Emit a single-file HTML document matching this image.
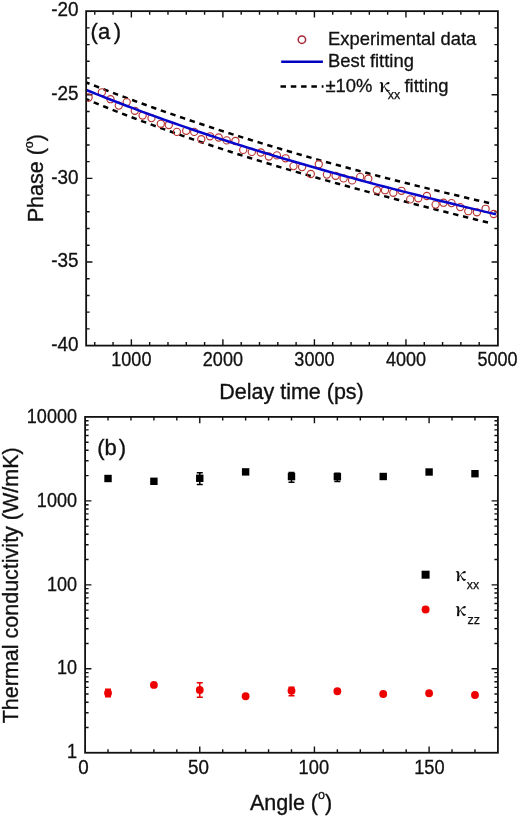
<!DOCTYPE html>
<html><head><meta charset="utf-8"><title>Plot</title>
<style>html,body{margin:0;padding:0;background:#fff;width:520px;height:817px;overflow:hidden}svg{display:block}</style>
</head><body>
<svg width="520" height="817" viewBox="0 0 520 817" font-family="'Liberation Sans', Arial, sans-serif"><path d="M94.75,345.60v-3.5M94.75,11.15v3.5M113.06,345.60v-3.5M113.06,11.15v3.5M131.37,345.60v-6.3M131.37,11.15v6.3M149.67,345.60v-3.5M149.67,11.15v3.5M167.98,345.60v-3.5M167.98,11.15v3.5M186.28,345.60v-3.5M186.28,11.15v3.5M204.59,345.60v-3.5M204.59,11.15v3.5M222.89,345.60v-6.3M222.89,11.15v6.3M241.20,345.60v-3.5M241.20,11.15v3.5M259.51,345.60v-3.5M259.51,11.15v3.5M277.81,345.60v-3.5M277.81,11.15v3.5M296.12,345.60v-3.5M296.12,11.15v3.5M314.42,345.60v-6.3M314.42,11.15v6.3M332.73,345.60v-3.5M332.73,11.15v3.5M351.04,345.60v-3.5M351.04,11.15v3.5M369.34,345.60v-3.5M369.34,11.15v3.5M387.65,345.60v-3.5M387.65,11.15v3.5M405.96,345.60v-6.3M405.96,11.15v6.3M424.26,345.60v-3.5M424.26,11.15v3.5M442.57,345.60v-3.5M442.57,11.15v3.5M460.87,345.60v-3.5M460.87,11.15v3.5M479.18,345.60v-3.5M479.18,11.15v3.5M86.15,27.87h3.5M497.90,27.87h-3.5M86.15,44.60h3.5M497.90,44.60h-3.5M86.15,61.32h3.5M497.90,61.32h-3.5M86.15,78.04h3.5M497.90,78.04h-3.5M86.15,94.76h6.3M497.90,94.76h-6.3M86.15,111.49h3.5M497.90,111.49h-3.5M86.15,128.21h3.5M497.90,128.21h-3.5M86.15,144.93h3.5M497.90,144.93h-3.5M86.15,161.65h3.5M497.90,161.65h-3.5M86.15,178.38h6.3M497.90,178.38h-6.3M86.15,195.10h3.5M497.90,195.10h-3.5M86.15,211.82h3.5M497.90,211.82h-3.5M86.15,228.54h3.5M497.90,228.54h-3.5M86.15,245.27h3.5M497.90,245.27h-3.5M86.15,261.99h6.3M497.90,261.99h-6.3M86.15,278.71h3.5M497.90,278.71h-3.5M86.15,295.43h3.5M497.90,295.43h-3.5M86.15,312.15h3.5M497.90,312.15h-3.5M86.15,328.88h3.5M497.90,328.88h-3.5" stroke="#111" stroke-width="1.4" fill="none"/>
<clipPath id="ca"><rect x="86.15" y="11.15" width="411.75" height="334.45000000000005"/></clipPath>
<g clip-path="url(#ca)"><path d="M86.15,82.44 L91.27,84.46 L96.40,86.46 L101.52,88.45 L106.65,90.42 L111.77,92.38 L116.90,94.32 L122.02,96.24 L127.15,98.15 L132.27,100.04 L137.40,101.92 L142.52,103.79 L147.65,105.64 L152.77,107.47 L157.90,109.29 L163.02,111.10 L168.14,112.89 L173.27,114.67 L178.39,116.43 L183.52,118.19 L188.64,119.92 L193.77,121.65 L198.89,123.36 L204.02,125.06 L209.14,126.74 L214.27,128.41 L219.39,130.07 L224.52,131.72 L229.64,133.35 L234.77,134.97 L239.89,136.58 L245.02,138.18 L250.14,139.77 L255.26,141.34 L260.39,142.90 L265.51,144.45 L270.64,145.99 L275.76,147.52 L280.89,149.04 L286.01,150.55 L291.14,152.04 L296.26,153.53 L301.39,155.00 L306.51,156.47 L311.64,157.92 L316.76,159.37 L321.89,160.80 L327.01,162.22 L332.13,163.64 L337.26,165.04 L342.38,166.44 L347.51,167.83 L352.63,169.20 L357.76,170.57 L362.88,171.93 L368.01,173.28 L373.13,174.63 L378.26,175.96 L383.38,177.29 L388.51,178.61 L393.63,179.92 L398.76,181.22 L403.88,182.51 L409.01,183.80 L414.13,185.08 L419.25,186.35 L424.38,187.62 L429.50,188.88 L434.63,190.13 L439.75,191.37 L444.88,192.61 L450.00,193.84 L455.13,195.07 L460.25,196.29 L465.38,197.50 L470.50,198.71 L475.63,199.91 L480.75,201.11 L485.88,202.30 L491.00,203.48" stroke="#000" stroke-width="2.5" stroke-dasharray="5.4 4.78" stroke-dashoffset="1.75" fill="none"/><path d="M86.15,99.20 L91.27,101.31 L96.40,103.40 L101.52,105.47 L106.65,107.52 L111.77,109.55 L116.90,111.56 L122.02,113.55 L127.15,115.52 L132.27,117.48 L137.40,119.42 L142.52,121.34 L147.65,123.24 L152.77,125.13 L157.90,126.99 L163.02,128.84 L168.14,130.68 L173.27,132.50 L178.39,134.30 L183.52,136.09 L188.64,137.86 L193.77,139.61 L198.89,141.36 L204.02,143.08 L209.14,144.79 L214.27,146.49 L219.39,148.17 L224.52,149.84 L229.64,151.50 L234.77,153.14 L239.89,154.77 L245.02,156.38 L250.14,157.98 L255.26,159.57 L260.39,161.15 L265.51,162.72 L270.64,164.27 L275.76,165.81 L280.89,167.35 L286.01,168.87 L291.14,170.37 L296.26,171.87 L301.39,173.36 L306.51,174.84 L311.64,176.31 L316.76,177.77 L321.89,179.22 L327.01,180.65 L332.13,182.09 L337.26,183.51 L342.38,184.92 L347.51,186.33 L352.63,187.72 L357.76,189.11 L362.88,190.50 L368.01,191.87 L373.13,193.24 L378.26,194.60 L383.38,195.96 L388.51,197.30 L393.63,198.65 L398.76,199.98 L403.88,201.31 L409.01,202.64 L414.13,203.96 L419.25,205.27 L424.38,206.58 L429.50,207.89 L434.63,209.19 L439.75,210.49 L444.88,211.78 L450.00,213.07 L455.13,214.36 L460.25,215.64 L465.38,216.92 L470.50,218.20 L475.63,219.48 L480.75,220.75 L485.88,222.03 L491.00,223.30" stroke="#000" stroke-width="2.5" stroke-dasharray="5.4 4.78" stroke-dashoffset="2.02" fill="none"/><g fill="none" stroke="#b83530" stroke-width="1.15"><circle cx="88.6" cy="97.5" r="3.6"/><circle cx="101.9" cy="92.3" r="3.6"/><circle cx="110.5" cy="99.2" r="3.6"/><circle cx="118.8" cy="105.6" r="3.6"/><circle cx="126.7" cy="102.1" r="3.6"/><circle cx="134.8" cy="110.8" r="3.6"/><circle cx="142.6" cy="115.5" r="3.6"/><circle cx="151.5" cy="118.1" r="3.6"/><circle cx="160.8" cy="123.8" r="3.6"/><circle cx="168.8" cy="125" r="3.6"/><circle cx="176.9" cy="131.9" r="3.6"/><circle cx="186.2" cy="130.8" r="3.6"/><circle cx="194.2" cy="131.9" r="3.6"/><circle cx="201.3" cy="139.2" r="3.6"/><circle cx="210" cy="136.3" r="3.6"/><circle cx="218.7" cy="137.5" r="3.6"/><circle cx="226.7" cy="140.4" r="3.6"/><circle cx="235.4" cy="141" r="3.6"/><circle cx="243.2" cy="149.9" r="3.6"/><circle cx="251.8" cy="151.9" r="3.6"/><circle cx="260.8" cy="152.5" r="3.6"/><circle cx="268.8" cy="156.5" r="3.6"/><circle cx="276.9" cy="155.4" r="3.6"/><circle cx="285.6" cy="158.3" r="3.6"/><circle cx="293.5" cy="166.1" r="3.6"/><circle cx="302.1" cy="167.1" r="3.6"/><circle cx="310.8" cy="174" r="3.6"/><circle cx="318.8" cy="164.2" r="3.6"/><circle cx="326.9" cy="174.6" r="3.6"/><circle cx="335.6" cy="175.8" r="3.6"/><circle cx="343.6" cy="178.4" r="3.6"/><circle cx="352.1" cy="180.4" r="3.6"/><circle cx="360.2" cy="176.9" r="3.6"/><circle cx="368.3" cy="178.7" r="3.6"/><circle cx="376.9" cy="190.2" r="3.6"/><circle cx="385" cy="190.2" r="3.6"/><circle cx="393.3" cy="192.8" r="3.6"/><circle cx="401.5" cy="190.8" r="3.6"/><circle cx="410.2" cy="199.4" r="3.6"/><circle cx="418.3" cy="198.3" r="3.6"/><circle cx="426.9" cy="196" r="3.6"/><circle cx="435.6" cy="204.6" r="3.6"/><circle cx="443.5" cy="202.7" r="3.6"/><circle cx="451.5" cy="203.1" r="3.6"/><circle cx="460.2" cy="207.1" r="3.6"/><circle cx="468.3" cy="211.2" r="3.6"/><circle cx="476.9" cy="212.3" r="3.6"/><circle cx="485.6" cy="208.8" r="3.6"/><circle cx="493.7" cy="214" r="3.6"/></g><path d="M86.15,89.92 L91.34,92.02 L96.53,94.11 L101.71,96.17 L106.90,98.22 L112.09,100.25 L117.28,102.27 L122.47,104.26 L127.65,106.24 L132.84,108.20 L138.03,110.15 L143.22,112.07 L148.41,113.98 L153.59,115.88 L158.78,117.76 L163.97,119.62 L169.16,121.47 L174.35,123.30 L179.53,125.11 L184.72,126.91 L189.91,128.70 L195.10,130.47 L200.29,132.23 L205.47,133.97 L210.66,135.70 L215.85,137.41 L221.04,139.11 L226.23,140.79 L231.41,142.47 L236.60,144.13 L241.79,145.77 L246.98,147.41 L252.17,149.03 L257.35,150.63 L262.54,152.23 L267.73,153.81 L272.92,155.38 L278.11,156.94 L283.29,158.49 L288.48,160.03 L293.67,161.55 L298.86,163.07 L304.04,164.57 L309.23,166.06 L314.42,167.55 L319.61,169.02 L324.80,170.48 L329.98,171.93 L335.17,173.38 L340.36,174.81 L345.55,176.23 L350.74,177.65 L355.92,179.05 L361.11,180.45 L366.30,181.84 L371.49,183.22 L376.68,184.59 L381.86,185.96 L387.05,187.31 L392.24,188.66 L397.43,190.00 L402.62,191.34 L407.80,192.66 L412.99,193.98 L418.18,195.30 L423.37,196.61 L428.56,197.91 L433.74,199.20 L438.93,200.49 L444.12,201.77 L449.31,203.05 L454.50,204.33 L459.68,205.59 L464.87,206.86 L470.06,208.11 L475.25,209.37 L480.44,210.62 L485.62,211.86 L490.81,213.10 L496.00,214.34" stroke="#0808cc" stroke-width="2.5" fill="none"/></g>
<rect x="86.15" y="11.15" width="411.75" height="334.45" fill="none" stroke="#111" stroke-width="1.8"/>
<g font-size="19.4" fill="#111" stroke="#111" stroke-width="0.3"><text x="78.6" y="16.45" text-anchor="end" textLength="27.33" lengthAdjust="spacingAndGlyphs">-20</text><text x="78.6" y="100.06" text-anchor="end" textLength="27.33" lengthAdjust="spacingAndGlyphs">-25</text><text x="78.6" y="183.68" text-anchor="end" textLength="27.33" lengthAdjust="spacingAndGlyphs">-30</text><text x="78.6" y="267.29" text-anchor="end" textLength="27.33" lengthAdjust="spacingAndGlyphs">-35</text><text x="78.6" y="350.90" text-anchor="end" textLength="27.33" lengthAdjust="spacingAndGlyphs">-40</text><text x="131.37" y="366.2" text-anchor="middle" textLength="40.13" lengthAdjust="spacingAndGlyphs">1000</text><text x="222.89" y="366.2" text-anchor="middle" textLength="40.13" lengthAdjust="spacingAndGlyphs">2000</text><text x="314.42" y="366.2" text-anchor="middle" textLength="40.13" lengthAdjust="spacingAndGlyphs">3000</text><text x="405.96" y="366.2" text-anchor="middle" textLength="40.13" lengthAdjust="spacingAndGlyphs">4000</text><text x="497.49" y="366.2" text-anchor="middle" textLength="40.13" lengthAdjust="spacingAndGlyphs">5000</text></g>
<text x="291.5" y="399.2" font-size="21.5" text-anchor="middle" fill="#111" stroke="#111" stroke-width="0.35">Delay time (ps)</text>
<text transform="translate(43.3,178.2) rotate(-90)" font-size="21.5" text-anchor="middle" fill="#111" stroke="#111" stroke-width="0.35">Phase (<tspan font-size="12.5" dy="-10.2">o</tspan><tspan dy="10.2">)</tspan></text>
<text x="90.6" y="39.4" font-size="22" fill="#111" stroke="#111" stroke-width="0.35">(a<tspan dx="3.5">)</tspan></text>
<circle cx="301.9" cy="39.7" r="3.7" fill="none" stroke="#a82838" stroke-width="1.5"/>
<text x="328" y="45" font-size="18.4" fill="#111" stroke="#111" stroke-width="0.3">Experimental data</text>
<path d="M281.2,61.7H322.9" stroke="#0000c0" stroke-width="2.4"/>
<text x="328" y="67.2" font-size="18.4" fill="#111" stroke="#111" stroke-width="0.3">Best fitting</text>
<path d="M280.5,86.5H323.5" stroke="#000" stroke-width="2.3" stroke-dasharray="5.5 4.8"/>
<text x="325.5" y="91.8" font-size="18.4" fill="#111" stroke="#111" stroke-width="0.3">±10%</text>
<text transform="translate(379,91.5) scale(1.06,1)" font-size="17.2" font-weight="700" font-family="'Noto Serif CJK SC', 'Liberation Serif', serif" fill="#111">κ</text>
<text x="387.8" y="98.9" font-size="12.5" fill="#111" stroke="#111" stroke-width="0.25">xx</text>
<text x="404.5" y="91.8" font-size="18.4" fill="#111" stroke="#111" stroke-width="0.3">fitting</text>
<path d="M108.03,752.75v-3.5M108.03,416.90v3.5M130.97,752.75v-3.5M130.97,416.90v3.5M153.90,752.75v-3.5M153.90,416.90v3.5M176.83,752.75v-3.5M176.83,416.90v3.5M199.77,752.75v-6.3M199.77,416.90v6.3M222.70,752.75v-3.5M222.70,416.90v3.5M245.63,752.75v-3.5M245.63,416.90v3.5M268.57,752.75v-3.5M268.57,416.90v3.5M291.50,752.75v-3.5M291.50,416.90v3.5M314.43,752.75v-6.3M314.43,416.90v6.3M337.37,752.75v-3.5M337.37,416.90v3.5M360.30,752.75v-3.5M360.30,416.90v3.5M383.23,752.75v-3.5M383.23,416.90v3.5M406.17,752.75v-3.5M406.17,416.90v3.5M429.10,752.75v-6.3M429.10,416.90v6.3M452.03,752.75v-3.5M452.03,416.90v3.5M474.97,752.75v-3.5M474.97,416.90v3.5M85.10,727.47h3.5M497.90,727.47h-3.5M85.10,712.69h3.5M497.90,712.69h-3.5M85.10,702.20h3.5M497.90,702.20h-3.5M85.10,694.06h3.5M497.90,694.06h-3.5M85.10,687.41h3.5M497.90,687.41h-3.5M85.10,681.79h3.5M497.90,681.79h-3.5M85.10,676.92h3.5M497.90,676.92h-3.5M85.10,672.63h3.5M497.90,672.63h-3.5M85.10,668.79h6.3M497.90,668.79h-6.3M85.10,643.51h3.5M497.90,643.51h-3.5M85.10,628.73h3.5M497.90,628.73h-3.5M85.10,618.24h3.5M497.90,618.24h-3.5M85.10,610.10h3.5M497.90,610.10h-3.5M85.10,603.45h3.5M497.90,603.45h-3.5M85.10,597.83h3.5M497.90,597.83h-3.5M85.10,592.96h3.5M497.90,592.96h-3.5M85.10,588.67h3.5M497.90,588.67h-3.5M85.10,584.83h6.3M497.90,584.83h-6.3M85.10,559.55h3.5M497.90,559.55h-3.5M85.10,544.76h3.5M497.90,544.76h-3.5M85.10,534.27h3.5M497.90,534.27h-3.5M85.10,526.14h3.5M497.90,526.14h-3.5M85.10,519.49h3.5M497.90,519.49h-3.5M85.10,513.87h3.5M497.90,513.87h-3.5M85.10,509.00h3.5M497.90,509.00h-3.5M85.10,504.70h3.5M497.90,504.70h-3.5M85.10,500.86h6.3M497.90,500.86h-6.3M85.10,475.59h3.5M497.90,475.59h-3.5M85.10,460.80h3.5M497.90,460.80h-3.5M85.10,450.31h3.5M497.90,450.31h-3.5M85.10,442.18h3.5M497.90,442.18h-3.5M85.10,435.53h3.5M497.90,435.53h-3.5M85.10,429.91h3.5M497.90,429.91h-3.5M85.10,425.04h3.5M497.90,425.04h-3.5M85.10,420.74h3.5M497.90,420.74h-3.5" stroke="#111" stroke-width="1.4" fill="none"/>
<rect x="85.1" y="416.9" width="412.80" height="335.85" fill="none" stroke="#111" stroke-width="1.8"/>
<g font-size="19.4" fill="#111" stroke="#111" stroke-width="0.3"><text x="77.0" y="758.45" text-anchor="end" textLength="10.03" lengthAdjust="spacingAndGlyphs">1</text><text x="77.0" y="674.49" text-anchor="end" textLength="20.06" lengthAdjust="spacingAndGlyphs">10</text><text x="77.0" y="590.53" text-anchor="end" textLength="30.09" lengthAdjust="spacingAndGlyphs">100</text><text x="77.0" y="506.56" text-anchor="end" textLength="40.13" lengthAdjust="spacingAndGlyphs">1000</text><text x="77.0" y="422.60" text-anchor="end" textLength="50.16" lengthAdjust="spacingAndGlyphs">10000</text><text x="83.60" y="773.7" text-anchor="middle" textLength="10.46" lengthAdjust="spacingAndGlyphs">0</text><text x="198.57" y="773.7" text-anchor="middle" textLength="20.93" lengthAdjust="spacingAndGlyphs">50</text><text x="313.83" y="773.7" text-anchor="middle" textLength="30.42" lengthAdjust="spacingAndGlyphs">100</text><text x="429.40" y="773.7" text-anchor="middle" textLength="30.42" lengthAdjust="spacingAndGlyphs">150</text></g>
<text x="291" y="809.5" font-size="21.5" text-anchor="middle" fill="#111" stroke="#111" stroke-width="0.35">Angle (<tspan font-size="12.5" dy="-10.2">o</tspan><tspan dy="10.2">)</tspan></text>
<text transform="translate(17.5,585.3) rotate(-90)" font-size="21.5" text-anchor="middle" fill="#111" stroke="#111" stroke-width="0.35">Thermal conductivity (W/mK)</text>
<text x="97.2" y="455.4" font-size="22" fill="#111" stroke="#111" stroke-width="0.35">(b<tspan dx="2">)</tspan></text>
<rect x="104.33" y="474.80" width="7.4" height="7.4" fill="#000"/><rect x="150.20" y="477.60" width="7.4" height="7.4" fill="#000"/><path d="M199.77,472.7V484.5M196.77,472.7h6M196.77,484.5h6" stroke="#000" stroke-width="1.5"/><rect x="196.07" y="474.60" width="7.4" height="7.4" fill="#000"/><rect x="241.93" y="468.20" width="7.4" height="7.4" fill="#000"/><path d="M291.50,472.6V482.2M288.50,472.6h6M288.50,482.2h6" stroke="#000" stroke-width="1.5"/><rect x="287.80" y="472.90" width="7.4" height="7.4" fill="#000"/><path d="M337.37,473.2V481.6M334.37,473.2h6M334.37,481.6h6" stroke="#000" stroke-width="1.5"/><rect x="333.67" y="473.00" width="7.4" height="7.4" fill="#000"/><rect x="379.53" y="472.80" width="7.4" height="7.4" fill="#000"/><rect x="425.40" y="468.30" width="7.4" height="7.4" fill="#000"/><rect x="471.27" y="470.00" width="7.4" height="7.4" fill="#000"/><path d="M108.03,689.2V696.8M105.03,689.2h6M105.03,696.8h6" stroke="#ec0000" stroke-width="1.5"/><circle cx="108.03" cy="693" r="3.9" fill="#ec0000"/><circle cx="153.90" cy="684.9" r="3.9" fill="#ec0000"/><path d="M199.77,682.8V697.2M196.77,682.8h6M196.77,697.2h6" stroke="#ec0000" stroke-width="1.5"/><circle cx="199.77" cy="690" r="3.9" fill="#ec0000"/><circle cx="245.63" cy="696.25" r="3.9" fill="#ec0000"/><path d="M291.50,687.3V695.7M288.50,687.3h6M288.50,695.7h6" stroke="#ec0000" stroke-width="1.5"/><circle cx="291.50" cy="690.75" r="3.9" fill="#ec0000"/><circle cx="337.37" cy="691.25" r="3.9" fill="#ec0000"/><circle cx="383.23" cy="694" r="3.9" fill="#ec0000"/><circle cx="429.10" cy="693.25" r="3.9" fill="#ec0000"/><circle cx="474.97" cy="695" r="3.9" fill="#ec0000"/>
<rect x="421.6" y="570.7" width="8" height="8" fill="#000"/>
<circle cx="425.6" cy="609.6" r="4" fill="#ec0000"/>
<text transform="translate(455.2,580.9) scale(1.06,1)" font-size="17.2" font-weight="700" font-family="'Noto Serif CJK SC', 'Liberation Serif', serif" fill="#111">κ</text>
<text transform="translate(455.2,615.9) scale(1.06,1)" font-size="17.2" font-weight="700" font-family="'Noto Serif CJK SC', 'Liberation Serif', serif" fill="#111">κ</text>
<text x="466.8" y="589.2" font-size="12.5" fill="#111" stroke="#111" stroke-width="0.25">xx</text>
<text x="467.6" y="624.2" font-size="12.5" fill="#111" stroke="#111" stroke-width="0.25">zz</text></svg>
</body></html>
